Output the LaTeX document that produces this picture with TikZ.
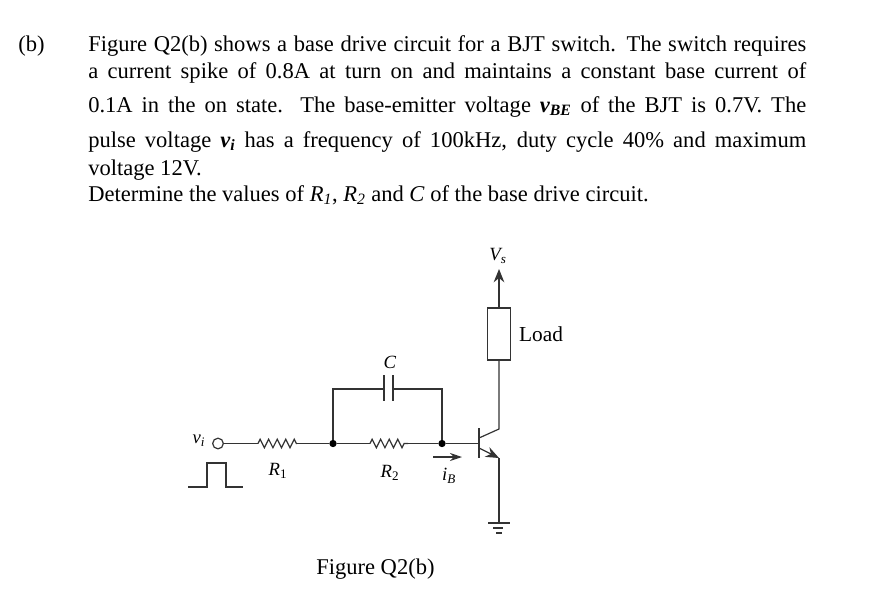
\documentclass[tikz,border=0pt]{standalone}
\usepackage{fontspec}
\setmainfont{Liberation Serif}
\usetikzlibrary{arrows.meta,calc,decorations.pathmorphing}
\tikzset{
  textline/.style={anchor=base west,inner sep=0pt,font=\fontsize{16.9}{18}\selectfont},
  label/.style={inner sep=0pt,font=\fontsize{14}{16}\selectfont},
  dot/.style={circle,fill=black,inner sep=0pt,minimum size=5.5pt},
  wire/.style={draw=black!80,line width=0.9pt},
  resistor/.style={wire,decorate,decoration={zigzag,segment length=6.4pt,amplitude=3.2pt}}
}
\newcommand{\fullline}[1]{\makebox[538.5pt][s]{#1}}
\begin{document}
\begin{tikzpicture}[x=0.75pt,y=-0.75pt]
  \useasboundingbox (0,0) rectangle (895,604);
  % text
  \node (part) [textline] at (18,51) {(b)};
  \node (lineA) [textline] at (88,51) {\fullline{Figure Q2(b) shows a base drive circuit for a BJT switch. The switch requires}};
  \node (lineB) [textline] at (88,78) {\fullline{a current spike of 0.8A at turn on and maintains a constant base current of}};
  \node (lineC) [textline] at (88,112) {\fullline{0.1A in the on state. The base-emitter voltage \textbf{\textit{v\textsubscript{BE}}} of the BJT is 0.7V. The}};
  \node (lineD) [textline] at (88,147) {\fullline{pulse voltage \textbf{\textit{v\textsubscript{i}}} has a frequency of 100kHz, duty cycle 40\% and maximum}};
  \node (lineE) [textline] at (88,175) {voltage 12V.};
  \node (lineF) [textline] at (88,201) {Determine the values of \textit{R\textsubscript{1}}, \textit{R\textsubscript{2}} and \textit{C} of the base drive circuit.};
  \node (caption) [textline] at (316,574) {Figure Q2(b)};
  % nodes of the circuit
  \node (vin) [circle,wire,inner sep=0pt,minimum size=8pt] at (218,443.5) {};
  \coordinate (rA1) at (258,443.5);
  \coordinate (rA2) at (297,443.5);
  \node (jA) [dot] at (333,443.5) {};
  \coordinate (rB1) at (370,443.5);
  \coordinate (rB2) at (408,443.5);
  \node (jB) [dot] at (442,443.5) {};
  \coordinate (base) at (479,443.5);
  \coordinate (barT) at (479,428);
  \coordinate (barB) at (479,458);
  \coordinate (coll) at (499,429);
  \coordinate (emit) at (499,458);
  \coordinate (capL) at (384,389);
  \coordinate (capR) at (393,389);
  \coordinate (topL) at (333,389);
  \coordinate (topR) at (442,389);
  \node (load) [draw=black!80,line width=0.9pt,minimum width=17pt,minimum height=39pt,inner sep=0pt] at (499,334) {};
  \coordinate (supply) at (499,269);
  \coordinate (gnd) at (499,523);
  % labels
  \node (vs) [label] at (498,256) {\textit{V\textsubscript{s}}};
  \node (loadtxt) [label,font=\fontsize{16}{18}\selectfont] at (541,334) {Load};
  \node (ctxt) [label] at (390,362) {\textit{C}};
  \node (vitxt) [label] at (199,441) {\textit{v\textsubscript{i}}};
  \node (ra) [label] at (278,471) {\textit{R}\textsubscript{1}};
  \node (rb) [label] at (390,473) {\textit{R}\textsubscript{2}};
  \node (ib) [label] at (449,476) {\textit{i\textsubscript{B}}};
  % wires
  \draw[wire] (vin) -- (rA1);
  \draw[resistor] (rA1) -- (rA2);
  \draw[wire] (rA2) -- (jA) -- (rB1);
  \draw[resistor] (rB1) -- (rB2);
  \draw[wire] (rB2) -- (jB) -- (base);
  \draw[wire] (jA) -- (topL) -- (capL);
  \draw[wire] (jB) -- (topR) -- (capR);
  \draw[wire] ($(capL)+(0,-14)$) -- ($(capL)+(0,12)$);
  \draw[wire] ($(capR)+(0,-14)$) -- ($(capR)+(0,12)$);
  \draw[wire,line width=1.3pt] (barT) -- (barB);
  \draw[wire] (479,438) -- (coll) -- (load.south);
  \draw[wire,-{Stealth[length=10pt,width=8pt]}] (479,448) -- (emit);
  \draw[wire] (emit) -- (gnd);
  \draw[wire,-{Stealth[length=10pt,width=8pt]}] (load.north) -- (supply);
  \draw[wire,-{Stealth[length=9pt,width=6pt]}] (433,457) -- (462,457);
  % pulse and ground
  \draw[wire] (188,487) -- (207,487) -- (207,463) -- (226,463) -- (226,487) -- (243,487);
  \draw[wire,line width=1.2pt] (488,523) -- (510,523);
  \draw[wire] (493,528) -- (503,528);
  \draw[wire] (496,533) -- (502,533);
\end{tikzpicture}
\end{document}
